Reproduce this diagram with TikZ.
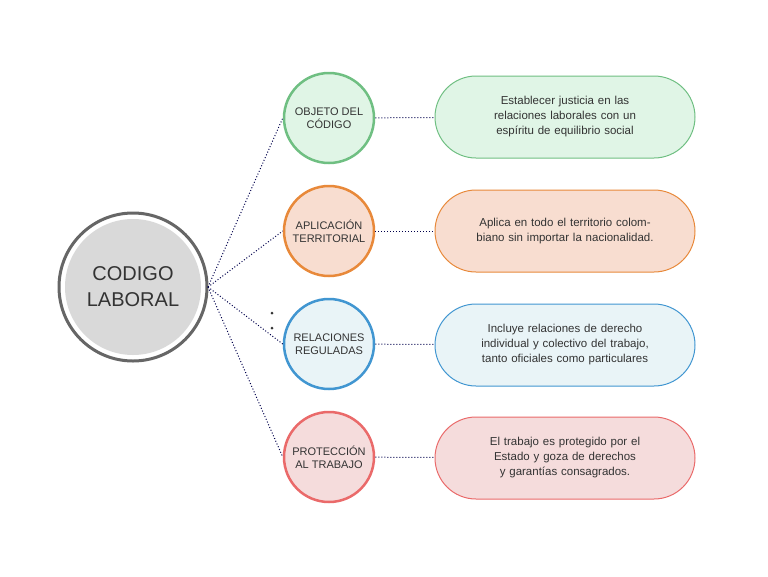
\documentclass[tikz,border=0pt]{standalone}
\usepackage{fontspec}
\setmainfont{Liberation Sans}
\begin{document}
\begin{tikzpicture}[x=1pt,y=-1pt,
  sub/.style={circle,minimum size=90pt,line width=2.5pt,align=center,inner sep=0pt,font=\fontsize{11}{13}\selectfont,text=black!80},
  box/.style={rounded corners=41pt,minimum width=260pt,minimum height=82pt,line width=1pt,align=center,font=\fontsize{11.5}{15}\selectfont,text=black!80,text width=190pt},
  link/.style={dotted,line width=1pt,color=black!70!blue}]
\useasboundingbox (0,0) rectangle (768,576);
\definecolor{gB}{HTML}{6FBF82}\definecolor{gF}{HTML}{E0F5E6}
\definecolor{oB}{HTML}{E8893A}\definecolor{oF}{HTML}{F8DDD0}
\definecolor{bB}{HTML}{4196D1}\definecolor{bF}{HTML}{E9F4F7}
\definecolor{rB}{HTML}{EA6A6A}\definecolor{rF}{HTML}{F5DCDC}
\node[circle,minimum size=148pt,draw=black!60,line width=3pt,fill=white] (c) at (133,287) {};
\node[circle,minimum size=136pt,fill=black!15,align=center,font=\fontsize{20}{26}\selectfont,text=black!80] (cin) at (133,287) {CODIGO\\LABORAL};
\node[sub,draw=gB,fill=gF] (s1) at (329,118) {OBJETO DEL\\CÓDIGO};
\node[sub,draw=oB,fill=oF] (s2) at (329,231) {APLICACIÓN\\TERRITORIAL};
\node[sub,draw=bB,fill=bF] (s3) at (329,344) {RELACIONES\\REGULADAS};
\node[sub,draw=rB,fill=rF] (s4) at (329,457) {PROTECCIÓN\\AL TRABAJO};
\node[box,draw=gB,fill=gF] (b1) at (565,117) {Establecer justicia en las relaciones laborales con un espíritu de equilibrio social};
\node[box,draw=oB,fill=oF] (b2) at (565,231) {Aplica en todo el territorio colombiano sin importar la nacionalidad.};
\node[box,draw=bB,fill=bF] (b3) at (565,345) {Incluye relaciones de derecho individual y colectivo del trabajo, tanto oficiales como particulares};
\node[box,draw=rB,fill=rF] (b4) at (565,458) {El trabajo es protegido por el Estado y goza de derechos y garantías consagrados.};
\coordinate (h) at (208,287);
\foreach \i in {1,2,3,4}{\draw[link] (h) -- (s\i.west); \draw[link] (s\i) -- (b\i);}
\fill[black!80] (272,313) circle (1.5pt) (272,328) circle (1.5pt);
\end{tikzpicture}
\end{document}
